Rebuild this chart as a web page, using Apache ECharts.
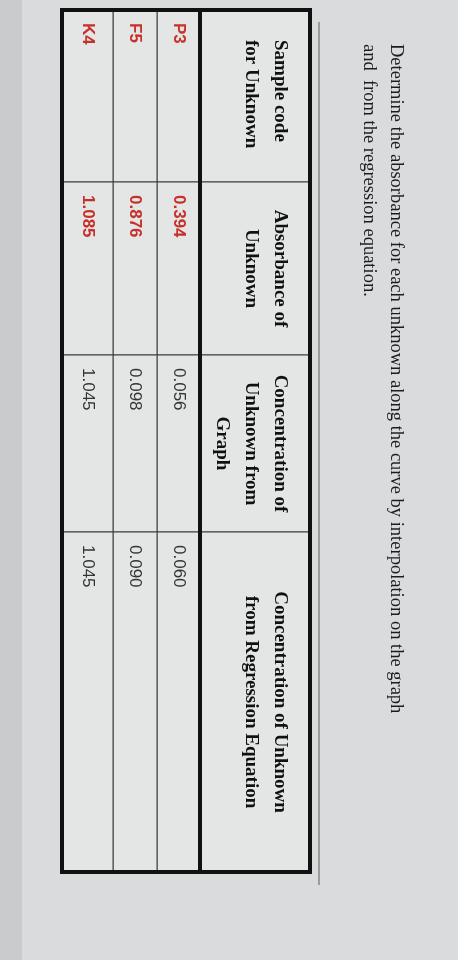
<!DOCTYPE html>
<html><head><meta charset="utf-8">
<script src="https://cdn.jsdelivr.net/npm/echarts@6/dist/echarts.min.js"></script>
<style>html,body{margin:0;padding:0;background:#d9dbdc}#c{width:458px;height:960px}</style>
</head><body><div id="c"></div>
<script>
const introLines = ['Determine the absorbance for each unknown along the curve by interpolation on the graph', 'and  from the regression equation.'];
const headers = ['Sample code\nfor Unknown', 'Absorbance of\nUnknown', 'Concentration of\nUnknown from\nGraph', 'Concentration of Unknown\nfrom Regression Equation'];
const samples = ['P3', 'F5', 'K4'];
const absorbance = ['0.394', '0.876', '1.085'];
const concGraph = ['0.056', '0.098', '1.045'];
const concReg = ['0.060', '0.090', '1.045'];

// layout (table units along rotated axes)
const rowBands = [[140, 250], [97, 140], [53, 97], [2, 53]];
const colBands = [[0, 172], [172, 345], [345, 522], [522, 862]];

const cells = [];
headers.forEach((h, c) => cells.push({value: [0, c], text: h, kind: 'head'}));
samples.forEach((s, r) => {
  cells.push({value: [r + 1, 0], text: s, kind: 'red'});
  cells.push({value: [r + 1, 1], text: absorbance[r], kind: 'red'});
  cells.push({value: [r + 1, 2], text: concGraph[r], kind: 'plain'});
  cells.push({value: [r + 1, 3], text: concReg[r], kind: 'plain'});
});
cells.push({value: [-1, -1], text: '', kind: 'frame'});

const chart = echarts.init(document.getElementById('c'));
chart.setOption({
  backgroundColor: '#d9dbdc',
  animation: false,
  grid: {left: 60, top: 10, width: 252, height: 870},
  xAxis: {type: 'value', min: 0, max: 252, show: false},
  yAxis: {type: 'value', min: 0, max: 870, inverse: true, show: false},
  graphic: [
    {type: 'rect', shape: {x: 0, y: 0, width: 22, height: 960}, style: {fill: '#c9cbcc'}},
    {type: 'line', shape: {x1: 319, y1: 22, x2: 319, y2: 885}, style: {stroke: '#9a9c9d', lineWidth: 2}},
    {type: 'text', x: 396, y: 44, rotation: -Math.PI / 2, style: {text: introLines[0], font: '18.5px "Liberation Serif"', fill: '#1c1c1c', align: 'left', verticalAlign: 'middle'}},
    {type: 'text', x: 369, y: 44, rotation: -Math.PI / 2, style: {text: introLines[1], font: '18.5px "Liberation Serif"', fill: '#1c1c1c', align: 'left', verticalAlign: 'middle'}}
  ],
  series: [{
    type: 'custom',
    coordinateSystem: 'cartesian2d',
    data: cells,
    renderItem: function (params, api) {
      const d = cells[params.dataIndex];
      if (d.kind === 'frame') {
        const p0 = api.coord([2, 0]), p1 = api.coord([250, 862]);
        const h0 = api.coord([140, 0]), h1 = api.coord([140, 862]);
        return {type: 'group', children: [
          {type: 'rect', shape: {x: p0[0], y: p0[1], width: p1[0] - p0[0], height: p1[1] - p0[1]}, style: {fill: null, stroke: '#111', lineWidth: 4}},
          {type: 'line', shape: {x1: h0[0], y1: h0[1], x2: h1[0], y2: h1[1]}, style: {stroke: '#111', lineWidth: 4}}
        ]};
      }
      const r = d.value[0], c = d.value[1];
      const rb = rowBands[r], cb = colBands[c];
      const a = api.coord([rb[0], cb[0]]), b = api.coord([rb[1], cb[1]]);
      const rect = {type: 'rect', shape: {x: a[0], y: a[1], width: b[0] - a[0], height: b[1] - a[1]}, style: {fill: '#e4e6e6', stroke: '#3a3a3a', lineWidth: 1}};
      let txt;
      if (d.kind === 'head') {
        const left = c === 0;
        txt = {type: 'text', x: b[0] - 16, y: left ? a[1] + 30 : (a[1] + b[1]) / 2, rotation: -Math.PI / 2,
          style: {text: d.text, font: 'bold 19px "Liberation Serif"', fill: '#111', align: left ? 'left' : 'center', verticalAlign: 'top', lineHeight: 29}};
      } else {
        const red = d.kind === 'red';
        txt = {type: 'text', x: (a[0] + b[0]) / 2, y: a[1] + 13, rotation: -Math.PI / 2,
          style: {text: d.text, font: (red ? 'bold ' : '') + '17px "Liberation Sans"', fill: red ? '#c8302a' : '#333', align: 'left', verticalAlign: 'middle'}};
      }
      return {type: 'group', children: [rect, txt]};
    }
  }]
});
</script></body></html>
